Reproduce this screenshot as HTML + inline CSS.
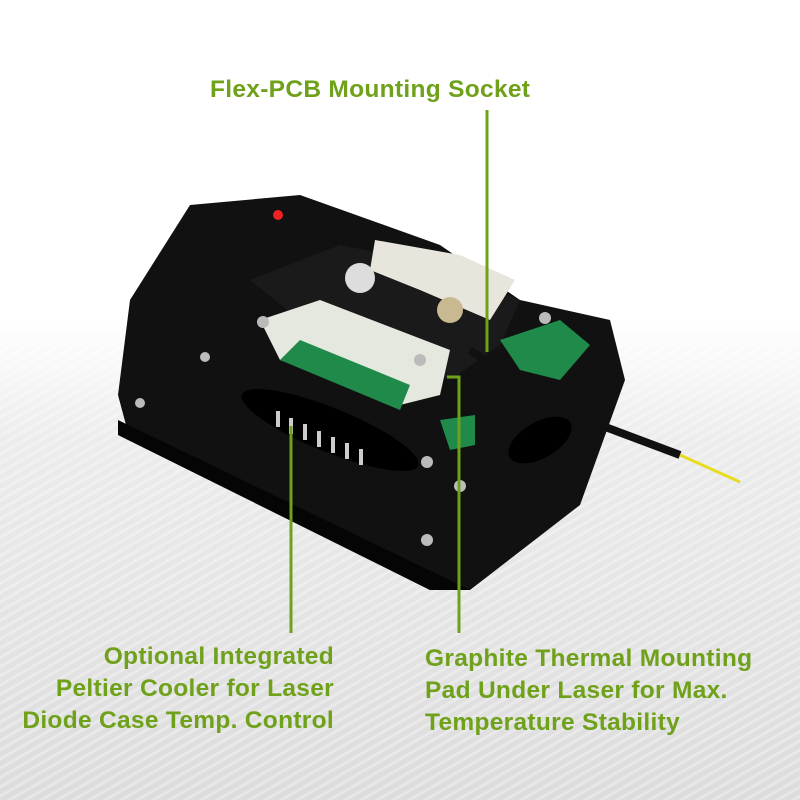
<!DOCTYPE html>
<html><head><meta charset="utf-8"><style>
html,body{margin:0;padding:0}
body{width:800px;height:800px;overflow:hidden;background:#fff;position:relative;font-family:"Liberation Sans",sans-serif}
.t{position:absolute;color:#6fa11a;font-weight:bold;font-size:24.5px;line-height:32px;letter-spacing:0.3px}
</style></head><body>
<svg width="800" height="800" style="position:absolute;left:0;top:0">
<defs>
<linearGradient id="bg" x1="0" y1="0" x2="0" y2="1">
<stop offset="0" stop-color="#fff"/><stop offset="0.4" stop-color="#fff"/><stop offset="0.55" stop-color="#ececec"/><stop offset="1" stop-color="#dcdcdc"/>
</linearGradient>
<pattern id="st" width="8" height="8" patternUnits="userSpaceOnUse" patternTransform="rotate(-30)">
<rect width="8" height="3" fill="#fff" opacity="0.5"/></pattern>
</defs>
<rect width="800" height="800" fill="url(#bg)"/>
<rect y="340" width="800" height="460" fill="url(#st)" opacity="0.6"/>
<polygon points="118,395 130,300 190,205 300,195 440,245 520,300 610,320 625,380 580,505 470,590 430,590 130,440" fill="#111"/>
<polygon points="118,420 470,590 430,590 118,435" fill="#050505"/>
<polygon points="250,280 340,245 440,265 520,300 500,345 450,380 380,350 300,320" fill="#1a1a1a"/>
<polygon points="375,240 460,255 515,280 490,320 420,290 370,270" fill="#e8e6dc"/>
<polygon points="260,320 320,300 450,350 440,395 400,405 280,360" fill="#e5e8df"/>
<polygon points="280,360 300,340 410,385 400,410" fill="#1f8a4a"/>
<polygon points="500,340 560,320 590,345 560,380 520,370" fill="#1f8a4a"/>
<polygon points="440,420 475,415 475,445 450,450" fill="#1f8a4a"/>
<circle cx="360" cy="278" r="15" fill="#ddd"/><circle cx="450" cy="310" r="13" fill="#c8b990"/>
<ellipse cx="330" cy="430" rx="95" ry="22" fill="#000" transform="rotate(22 330 430)"/>
<ellipse cx="540" cy="440" rx="35" ry="18" fill="#000" transform="rotate(-30 540 440)"/>
<g fill="#ccc"><rect x="276" y="411" width="4" height="16"/><rect x="289" y="418" width="4" height="16"/><rect x="303" y="424" width="4" height="16"/><rect x="317" y="431" width="4" height="16"/><rect x="331" y="437" width="4" height="16"/><rect x="345" y="443" width="4" height="16"/><rect x="359" y="449" width="4" height="16"/></g>
<g fill="#bbb"><circle cx="140" cy="403" r="5"/><circle cx="205" cy="357" r="5"/><circle cx="427" cy="462" r="6"/><circle cx="460" cy="486" r="6"/><circle cx="427" cy="540" r="6"/><circle cx="263" cy="322" r="6"/><circle cx="420" cy="360" r="6"/><circle cx="545" cy="318" r="6"/></g>
<circle cx="278" cy="215" r="5" fill="#e22"/>
<path d="M470 350 L560 410 L680 455" stroke="#111" stroke-width="8" fill="none"/>
<path d="M680 455 L740 482" stroke="#e6dc20" stroke-width="3" fill="none"/>
<g stroke="#6fa11a" stroke-width="3" fill="none">
<line x1="487" y1="110" x2="487" y2="352"/>
<line x1="291" y1="426" x2="291" y2="633"/>
<polyline points="447,377 459,377 459,633"/>
</g>
</svg>
<div class="t" style="left:210px;top:74px;white-space:nowrap">Flex-PCB Mounting Socket</div>
<div class="t" style="right:466px;top:641px;text-align:right;white-space:nowrap">Optional Integrated<br>Peltier Cooler for Laser<br>Diode Case Temp. Control</div>
<div class="t" style="left:425px;top:643px;white-space:nowrap">Graphite Thermal Mounting<br>Pad Under Laser for Max.<br>Temperature Stability</div>
</body></html>
